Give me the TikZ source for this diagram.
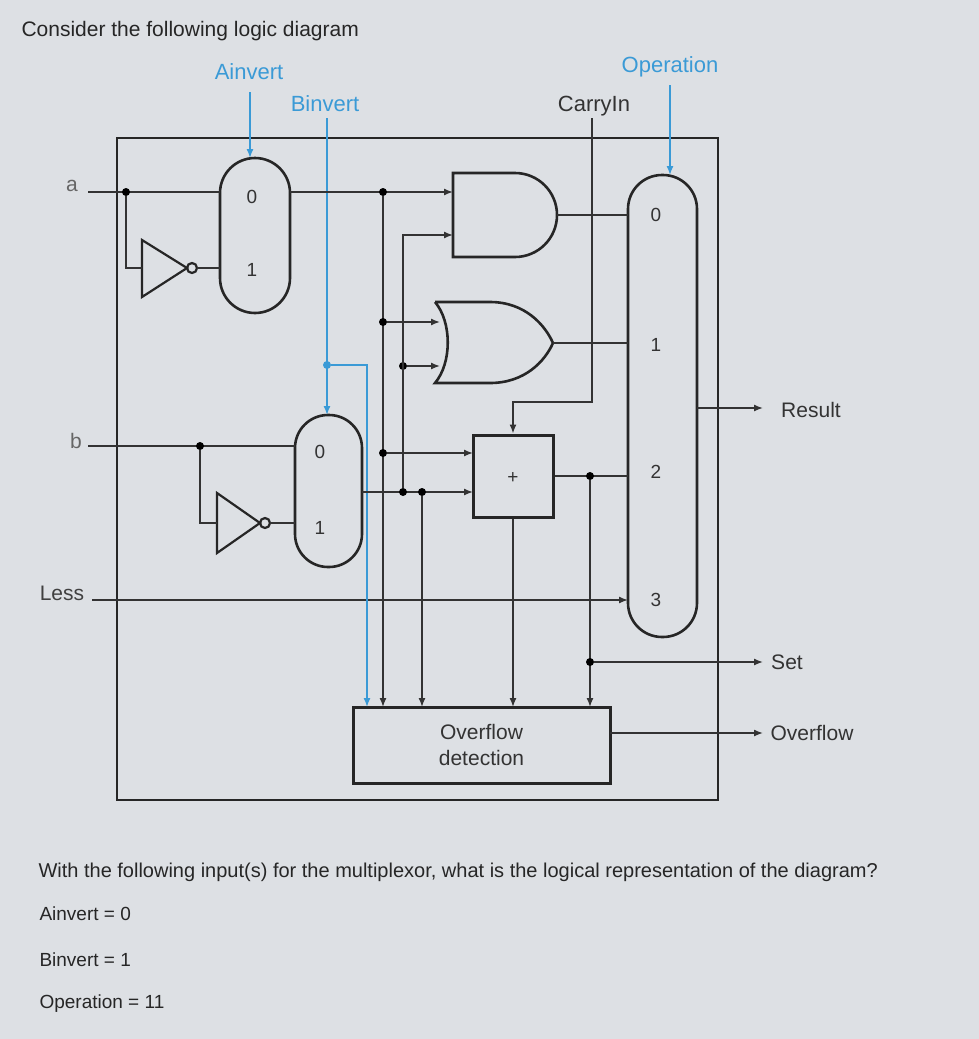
\documentclass[tikz,border=0pt]{standalone}
\usepackage{fontspec}
\setmainfont{Liberation Sans}
\usetikzlibrary{arrows.meta}
\definecolor{bg}{HTML}{DDE0E4}
\definecolor{blu}{HTML}{3A9AD6}
\begin{document}
\begin{tikzpicture}[x=1pt,y=-1pt,
  wire/.style={line width=1.4pt,black!80},
  bwire/.style={line width=1.4pt,blu},
  arr/.style={-{Latex[length=9,width=7]}},
  gate/.style={line width=2.6pt,black!85},
  dot/.style={circle,fill=black,inner sep=0pt,minimum size=8pt},
  bdot/.style={circle,fill=blu,inner sep=0pt,minimum size=8pt},
  mux/.style={draw,line width=2.6pt,black!85,inner sep=0pt},
  lab/.style={font=\fontsize{21}{24}\selectfont,text=black!80},
  blab/.style={font=\fontsize{22}{24}\selectfont,text=blu},
  dig/.style={font=\fontsize{19}{22}\selectfont,text=black!80},
  txt/.style={font=\fontsize{20}{24}\selectfont,text=black!85,anchor=west}]
\fill[bg] (0,0) rectangle (979,1039);
\useasboundingbox (0,0) rectangle (979,1039);
% texts
\node[txt,font=\fontsize{21}{24}\selectfont] (t1) at (18,31) {Consider the following logic diagram};
\node[txt] (t2) at (35,872) {With the following input(s) for the multiplexor, what is the logical representation of the diagram?};
\node[txt,font=\fontsize{19}{22}\selectfont] (t3) at (36,914) {Ainvert = 0};
\node[txt,font=\fontsize{19}{22}\selectfont] (t4) at (36,960) {Binvert = 1};
\node[txt,font=\fontsize{19}{22}\selectfont] (t5) at (36,1004) {Operation = 11};
% outer box
\draw[line width=2.6pt,black!85] (117,138) rectangle (718,800);
% labels
\node[blab] (ainv) at (249,72) {Ainvert};
\node[blab] (binv) at (325,104) {Binvert};
\node[blab] (oper) at (670,67) {Operation};
\node[lab,font=\fontsize{22}{24}\selectfont] (cin) at (594,106) {CarryIn};
\node[lab,text=black!60] (la) at (72,186) {a};
\node[lab,text=black!60] (lb) at (76,441) {b};
\node[lab,text=black!75] (lless) at (62,593) {Less};
\node[lab] (lres) at (811,410) {Result};
\node[lab] (lset) at (787,662) {Set};
\node[lab] (lovf) at (812,733) {Overflow};
% muxes
\node[mux,minimum width=70pt,minimum height=155pt,rounded corners=35pt] (m1) at (255,235.5) {};
\node[dig] at (252,197) {0};
\node[dig] at (252,270) {1};
\node[mux,minimum width=67pt,minimum height=152pt,rounded corners=33pt] (m2) at (328.5,491) {};
\node[dig] at (320,452) {0};
\node[dig] at (320,528) {1};
\node[mux,minimum width=69pt,minimum height=462pt,rounded corners=34pt] (m4) at (662.5,406) {};
\node[dig] at (656,215) {0};
\node[dig] at (656,345) {1};
\node[dig] at (656,472) {2};
\node[dig] at (656,600) {3};
% AND
\draw[gate] (453,173) -- (515,173) arc (-90:90:42) -- (453,257) -- cycle;
% OR
\draw[gate] (435,302) -- (490,302) .. controls (525,302) and (545,325) .. (553,343)
  .. controls (545,361) and (525,383) .. (490,383) -- (435,383)
  .. controls (452,363) and (452,322) .. (435,302);
% adder
\node[draw,line width=3pt,black!85,minimum width=80pt,minimum height=82pt] (add) at (513,476) {};
\node[dig] at (513,478) {+};
% overflow box
\node[draw,line width=3pt,black!85,minimum width=257pt,minimum height=76pt,align=center,font=\fontsize{21}{26}\selectfont,text=black!80] (ovf) at (481.5,745) {Overflow\\detection};
% inverters
\draw[gate,line width=2.2pt] (142,240) -- (187,268) -- (142,297) -- cycle;
\draw[gate,line width=2.2pt] (192,268) circle (5);
\draw[gate,line width=2.2pt] (217,493) -- (260,523) -- (217,553) -- cycle;
\draw[gate,line width=2.2pt] (265,523) circle (5);
% a input
\draw[wire] (88,192) -- (220,192);
\node[dot] (da) at (126,192) {};
\draw[wire] (da) -- (126,268) -- (142,268);
\draw[wire] (197,268) -- (220,268);
% b input
\draw[wire] (88,446) -- (295,446);
\node[dot] (db) at (200,446) {};
\draw[wire] (db) -- (200,523) -- (217,523);
\draw[wire] (270,523) -- (295,523);
% Less
\draw[wire,arr] (92,600) -- (628,600);
% Ainvert
\draw[bwire,arr] (250,92) -- (250,158);
% Binvert
\draw[bwire,arr] (327,118) -- (327,415);
\node[bdot] (bd) at (327,365) {};
\draw[bwire,arr] (bd) -- (367,365) -- (367,707);
% Operation
\draw[bwire,arr] (670,85) -- (670,175);
% mux1 output
\draw[wire,arr] (290,192) -- (453,192);
\node[dot] (d1) at (383,192) {};
\draw[wire,arr] (d1) -- (383,707);
\node[dot] (d2) at (383,322) {};
\node[dot] (d3) at (383,453) {};
\draw[wire,arr] (d2) -- (440,322);
\draw[wire,arr] (d3) -- (473,453);
% mux2 output
\draw[wire,arr] (362,492) -- (473,492);
\node[dot] (d4) at (403,492) {};
\node[dot] (d5) at (403,366) {};
\node[dot] (d6) at (422,492) {};
\draw[wire,arr] (d4) -- (403,235) -- (453,235);
\draw[wire,arr] (d5) -- (440,366);
\draw[wire,arr] (d6) -- (422,707);
% CarryIn
\draw[wire,arr] (592,118) -- (592,402) -- (513,402) -- (add.north);
% adder out
\draw[wire,arr] (add.south) -- (513,707);
\draw[wire] (add.east) -- (628,476);
\node[dot] (d7) at (590,476) {};
\draw[wire,arr] (d7) -- (590,707);
\node[dot] (d8) at (590,662) {};
\draw[wire,arr] (d8) -- (763,662);
% gate outputs
\draw[wire] (557,215) -- (628,215);
\draw[wire] (553,343) -- (628,343);
% result / overflow
\draw[wire,arr] (697,408) -- (763,408);
\draw[wire,arr] (610,733) -- (763,733);
\end{tikzpicture}
\end{document}
